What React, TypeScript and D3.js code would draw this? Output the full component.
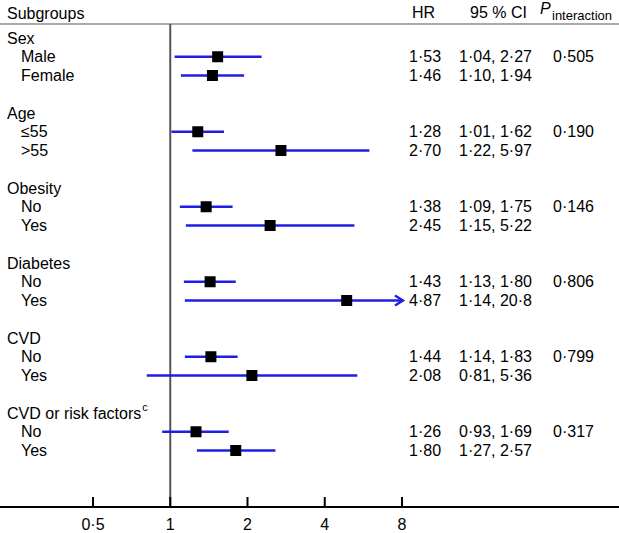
import React from "react";
import * as d3 from "d3";

// subgroup data (hazard ratios)
const groups = ["Sex", "Age", "Obesity", "Diabetes", "CVD", "CVD or risk factors"];
const subLabels = [
  ["Male", "Female"],
  ["≤55", ">55"],
  ["No", "Yes"],
  ["No", "Yes"],
  ["No", "Yes"],
  ["No", "Yes"],
];
const hr = [1.53, 1.46, 1.28, 2.7, 1.38, 2.45, 1.43, 4.87, 1.44, 2.08, 1.26, 1.8];
const lower = [1.04, 1.1, 1.01, 1.22, 1.09, 1.15, 1.13, 1.14, 1.14, 0.81, 0.93, 1.27];
const upper = [2.27, 1.94, 1.62, 5.97, 1.75, 5.22, 1.8, 20.8, 1.83, 5.36, 1.69, 2.57];
const pInteraction = ["0·505", "0·190", "0·146", "0·806", "0·799", "0·317"];
const tickValues = [0.5, 1, 2, 4, 8];
const tickLabels = ["0·5", "1", "2", "4", "8"];

const W = 619;
const H = 533;
const font = "'Liberation Sans', Arial, Helvetica, sans-serif";
const blue = "#1e1ee6";

const fmt = (v: number) => (v >= 10 ? d3.format(".1f")(v) : d3.format(".2f")(v)).replace(".", "·");

export default function App() {
  const x = d3.scaleLog().base(2).domain([0.5, 8]).range([93, 402]);
  // 4 slots per group: header, two rows, spacer
  const y = d3.scaleLinear().domain([0, 23]).range([38, 38 + 23 * 18.75]);
  const axisY = 507;
  const topLine = 24;
  const xMax = 8;

  return (
    <div>
      <style>{"body{margin:0}"}</style>
      <svg width={W} height={H} style={{ display: "block", fontFamily: font }}>
        <rect width={W} height={H} fill="#fff" />

        {/* header */}
        <text x={7} y={18.5} fontSize={16}>Subgroups</text>
        <text x={412} y={18} fontSize={16}>HR</text>
        <text x={470} y={18} fontSize={16}>95 % CI</text>
        <text x={540} y={14} fontSize={16} fontStyle="italic">P</text>
        <text x={552} y={19.5} fontSize={13}>interaction</text>
        <line x1={0} x2={W} y1={topLine} y2={topLine} stroke="#aaa" strokeWidth={2} />

        {/* reference line at HR = 1 */}
        <line x1={x(1)} x2={x(1)} y1={topLine} y2={axisY} stroke="#555" strokeWidth={2} />

        {groups.map((g, gi) => {
          const gy = y(gi * 4);
          return (
            <g key={g}>
              <text x={7} y={gy} dy="0.35em" fontSize={16}>
                {g}
                {g === "CVD or risk factors" ? (
                  <tspan fontSize={11} dy="-0.7em" dx={1}>c</tspan>
                ) : null}
              </text>
              <text x={553} y={y(gi * 4 + 1)} dy="0.35em" fontSize={16}>{pInteraction[gi]}</text>
              {subLabels[gi].map((s, si) => {
                const i = gi * 2 + si;
                const ry = y(gi * 4 + 1 + si);
                const hi = Math.min(upper[i], xMax);
                const clipped = upper[i] > xMax;
                const tip = x(xMax) + 1;
                return (
                  <g key={s + si}>
                    <text x={21} y={ry} dy="0.35em" fontSize={16}>{s}</text>
                    <line x1={x(lower[i])} x2={clipped ? tip : x(hi)} y1={ry} y2={ry} stroke={blue} strokeWidth={2.6} />
                    {clipped ? (
                      <path
                        d={`M${tip - 8},${ry - 5}L${tip},${ry}L${tip - 8},${ry + 5}`}
                        fill="none"
                        stroke={blue}
                        strokeWidth={2.4}
                      />
                    ) : null}
                    <rect x={x(hr[i]) - 5.5} y={ry - 5.5} width={11} height={11} fill="#000" />
                    <text x={409} y={ry} dy="0.35em" fontSize={16}>{fmt(hr[i])}</text>
                    <text x={459} y={ry} dy="0.35em" fontSize={16}>{fmt(lower[i]) + ", " + fmt(upper[i])}</text>
                  </g>
                );
              })}
            </g>
          );
        })}

        {/* x axis */}
        <line x1={0} x2={W} y1={axisY} y2={axisY} stroke="#000" strokeWidth={2} />
        {tickValues.map((t, i) => (
          <g key={t} transform={`translate(${x(t)},0)`}>
            <line y1={axisY - 10} y2={axisY} stroke="#000" strokeWidth={2} />
            <text y={524} dy="0.35em" textAnchor="middle" fontSize={16}>{tickLabels[i]}</text>
          </g>
        ))}
      </svg>
    </div>
  );
}
